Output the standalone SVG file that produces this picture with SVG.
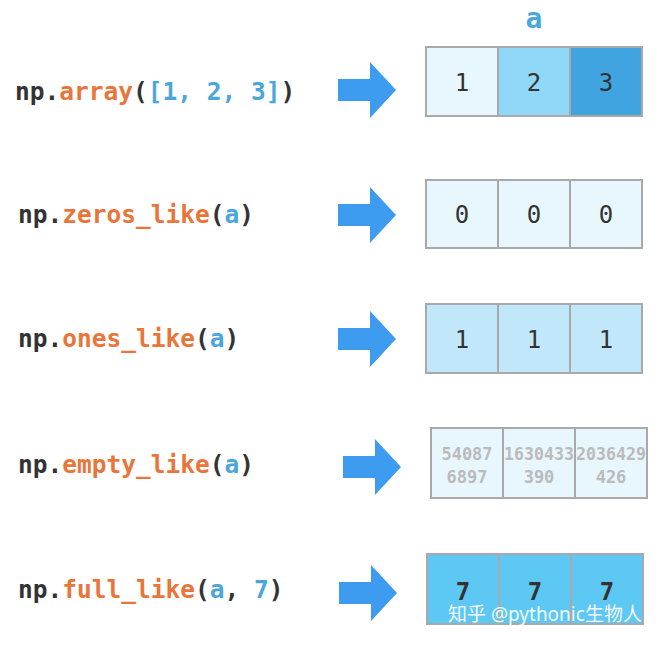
<svg xmlns="http://www.w3.org/2000/svg" width="668" height="646" viewBox="0 0 668 646">
<style>
.code{font-family:"DejaVu Sans Mono",monospace;font-weight:bold;font-size:24.5px;fill:#333}
.o{fill:#e8763a}.b{fill:#4aa6dc}
.cell{stroke:#a9a9a9;stroke-width:2}
.num{font-family:"DejaVu Sans Mono",monospace;font-size:24px;fill:#333;text-anchor:middle}
.sm{font-family:"DejaVu Sans Mono",monospace;font-weight:bold;font-size:17px;fill:#bbb;text-anchor:middle}
.arr{fill:#3d9cf0}
</style>
<defs><path id="ar" d="M0,-11 H32 V-28 L58,0 L32,28 V11 H0 Z"/></defs>
<rect width="668" height="646" fill="#fff"/>
<g id="connectors">
<use href="#ar" class="arr" x="338" y="90"/>
<use href="#ar" class="arr" x="338" y="215"/>
<use href="#ar" class="arr" x="338" y="339"/>
<use href="#ar" class="arr" x="343" y="467"/>
<use href="#ar" class="arr" x="339" y="593"/>
</g>
<text x="534" y="28" text-anchor="middle" font-family="DejaVu Sans Mono,monospace" font-weight="bold" font-size="28" fill="#4aa6dc">a</text>
<g id="n1">
<text class="code" x="15" y="100">np.<tspan class="o">array</tspan>(<tspan class="b">[1, 2, 3]</tspan>)</text>
<rect class="cell" x="426" y="47" width="72" height="69" fill="#e8f6fd"/>
<rect class="cell" x="498" y="47" width="72" height="69" fill="#8fd8f8"/>
<rect class="cell" x="570" y="47" width="72" height="69" fill="#3fa4e0"/>
<text class="num" x="462" y="91">1</text><text class="num" x="534" y="91">2</text><text class="num" x="606" y="91">3</text>
</g>
<g id="n2">
<text class="code" x="18" y="223">np.<tspan class="o">zeros_like</tspan>(<tspan class="b">a</tspan>)</text>
<rect class="cell" x="426" y="180" width="72" height="68" fill="#e8f6fd"/>
<rect class="cell" x="498" y="180" width="72" height="68" fill="#e8f6fd"/>
<rect class="cell" x="570" y="180" width="72" height="68" fill="#e8f6fd"/>
<text class="num" x="462" y="223">0</text><text class="num" x="534" y="223">0</text><text class="num" x="606" y="223">0</text>
</g>
<g id="n3">
<text class="code" x="18" y="347">np.<tspan class="o">ones_like</tspan>(<tspan class="b">a</tspan>)</text>
<rect class="cell" x="426" y="304" width="72" height="69" fill="#c1e8fa"/>
<rect class="cell" x="498" y="304" width="72" height="69" fill="#c1e8fa"/>
<rect class="cell" x="570" y="304" width="72" height="69" fill="#c1e8fa"/>
<text class="num" x="462" y="348">1</text><text class="num" x="534" y="348">1</text><text class="num" x="606" y="348">1</text>
</g>
<g id="n4">
<text class="code" x="18" y="473">np.<tspan class="o">empty_like</tspan>(<tspan class="b">a</tspan>)</text>
<rect class="cell" x="431" y="428" width="72" height="70" fill="#e8f6fd"/>
<rect class="cell" x="503" y="428" width="72" height="70" fill="#e8f6fd"/>
<rect class="cell" x="575" y="428" width="72" height="70" fill="#e8f6fd"/>
<text class="sm" x="467" y="460">54087</text><text class="sm" x="467" y="483">6897</text>
<text class="sm" x="539" y="460" textLength="70" lengthAdjust="spacingAndGlyphs">1630433</text><text class="sm" x="539" y="483">390</text>
<text class="sm" x="611" y="460" textLength="70" lengthAdjust="spacingAndGlyphs">2036429</text><text class="sm" x="611" y="483">426</text>
</g>
<g id="n5">
<text class="code" x="18" y="598">np.<tspan class="o">full_like</tspan>(<tspan class="b">a</tspan>, <tspan class="b">7</tspan>)</text>
<rect class="cell" x="427" y="554" width="72" height="70" fill="#5dc8f4"/>
<rect class="cell" x="499" y="554" width="72" height="70" fill="#5dc8f4"/>
<rect class="cell" x="571" y="554" width="72" height="70" fill="#5dc8f4"/>
<text class="num" x="463" y="600" font-weight="bold" font-size="28">7</text><text class="num" x="535" y="600" font-weight="bold" font-size="28">7</text><text class="num" x="607" y="600" font-weight="bold" font-size="28">7</text>
</g>
<text x="448" y="621" font-family="Noto Sans,Noto Sans CJK SC,sans-serif" font-size="19" fill="#fff" fill-opacity="0.95">知乎 @pythonic生物人</text>
</svg>
